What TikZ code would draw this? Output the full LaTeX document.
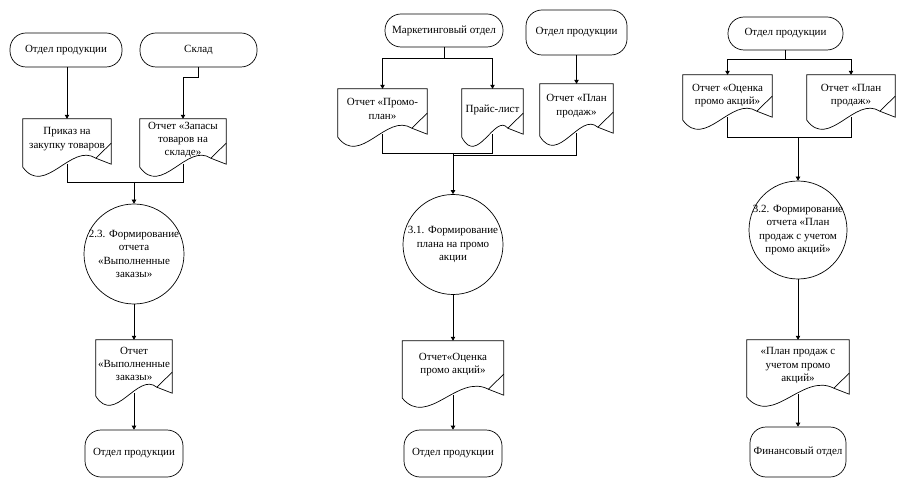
\documentclass[tikz,border=0pt]{standalone}
\usepackage{fontspec}
\setmainfont{Liberation Serif}
\usetikzlibrary{arrows.meta,calc}
\tikzset{
  every node/.style={font=\fontsize{11}{13.3}\selectfont},
  lw/.style={line width=0.7pt},
  term/.style={draw, lw, rounded corners=16pt, inner sep=0pt, align=center},
  docnode/.style={inner sep=0pt},
  proc/.style={draw, lw, circle, inner sep=0pt},
  ptext/.style={align=center, inner sep=0pt},
  arr/.style={lw, -{Triangle[length=4pt,width=4.5pt]}},
  conn/.style={lw}
}
\newcommand\docshape[2]{%
  \draw[lw] (#1.south west) .. controls ($(#1.south west)+(0.25*#2,-30)$) and ($(#1.south west)+(0.55*#2,25)$) .. ($(#1.south west)+(#2-15,9)$)
    -- ($(#1.south east)+(0,3)$) -- (#1.north east) -- (#1.north west) -- cycle;
  \draw[lw] ($(#1.south west)+(#2-15,9)$) -- ($(#1.south east)+(0,24)$);
}
\begin{document}
\begin{tikzpicture}[x=1pt,y=1pt]
\useasboundingbox (0,0) rectangle (904,-486);
% ---------- column 1 ----------
\node[term, minimum width=112pt, minimum height=34pt] (t11) at (66,-50) {Отдел продукции};
\node[term, minimum width=117pt, minimum height=34pt] (t12) at (198.5,-50) {Склад};
\node[docnode, minimum width=88pt, minimum height=48pt] (d11) at (67,-143) {};
\node[ptext] (d11t) at ($(d11)+(0,4)$) {Приказ на\\закупку товаров};
\node[docnode, minimum width=86pt, minimum height=48pt] (d12) at (183,-143) {};
\node[ptext] (d12t) at ($(d12)+(0,3)$) {Отчет «Запасы\\товаров на\\складе»};
\docshape{d11}{88}
\docshape{d12}{86}
\node[proc, minimum size=100pt] (c1) at (134,-254) {};
\node[ptext] (c1t) at (c1) {2.3. Формирование\\отчета\\«Выполненные\\заказы»};
\node[docnode, minimum width=76pt, minimum height=56pt] (d13) at (134,-368) {};
\node[ptext] (d13t) at ($(d13)+(0,4)$) {Отчет\\«Выполненные\\заказы»};
\docshape{d13}{76}
\node[term, minimum width=98pt, minimum height=47pt] (t13) at (134,-453.5) {Отдел продукции};
\coordinate (j1) at (134,-182);
\draw[arr] (t11.south -| d11.north) -- (d11.north);
\draw[arr] (t12.south) -- ++(0,-10) -| (d12.north);
\draw[conn] ($(d11.south)+(0,3)$) -- (d11.south |- j1) -- (d12.south |- j1) -- ($(d12.south)+(0,3)$);
\draw[arr] (j1) -- (c1.north);
\draw[arr] (c1.south) -- (d13.north);
\draw[arr] ($(d13.south)+(0,3)$) -- (t13.north);
% ---------- column 2 ----------
\node[term, minimum width=118pt, minimum height=33pt] (t21) at (444,-30.5) {Маркетинговый отдел};
\node[term, minimum width=101pt, minimum height=45pt] (t22) at (576.5,-32.5) {Отдел продукции};
\node[docnode, minimum width=89pt, minimum height=48pt] (d21) at (382.5,-113) {};
\node[ptext] (d21t) at ($(d21)+(0,4)$) {Отчет «Промо-\\план»};
\node[docnode, minimum width=61pt, minimum height=48pt] (d22) at (492.5,-113) {};
\node[ptext] (d22t) at ($(d22)+(0,3)$) {Прайс-лист};
\node[docnode, minimum width=73pt, minimum height=52pt] (d23) at (576.5,-110) {};
\node[ptext] (d23t) at ($(d23)+(0,4)$) {Отчет «План\\продаж»};
\docshape{d21}{89}
\docshape{d22}{61}
\docshape{d23}{73}
\node[proc, minimum size=100pt] (c2) at (453,-244.5) {};
\node[ptext] (c2t) at (c2) {3.1. Формирование\\плана на промо\\акции};
\node[docnode, minimum width=101pt, minimum height=57pt] (d24) at (453,-369.5) {};
\node[ptext] (d24t) at ($(d24)+(0,5)$) {Отчет«Оценка\\промо акций»};
\docshape{d24}{101}
\node[term, minimum width=98pt, minimum height=47pt] (t23) at (453,-453.5) {Отдел продукции};
\coordinate (j2b) at (453,-153);
\coordinate (j2c) at (453,-155);
\draw[arr] (t21.south) -- ++(0,-11) -| (d21.north);
\draw[arr] (t21.south) -- ++(0,-11) -| (d22.north);
\draw[arr] (t22.south -| d23.north) -- (d23.north);
\draw[conn] ($(d21.south)+(0,3)$) -- (d21.south |- j2b) -- (d22.south |- j2b) -- ($(d22.south)+(0,3)$);
\draw[conn] ($(d23.south)+(0,3)$) -- (d23.south |- j2c) -- (j2c);
\draw[arr] (j2b) -- (c2.north);
\draw[arr] (c2.south) -- (d24.north);
\draw[arr] ($(d24.south)+(0,3)$) -- (t23.north);
% ---------- column 3 ----------
\node[term, minimum width=115pt, minimum height=33pt] (t31) at (785.5,-33.5) {Отдел продукции};
\node[docnode, minimum width=89pt, minimum height=45pt] (d31) at (727.5,-97.5) {};
\node[ptext] (d31t) at ($(d31)+(0,2)$) {Отчет «Оценка\\промо акций»};
\node[docnode, minimum width=88pt, minimum height=45pt] (d32) at (851,-97.5) {};
\node[ptext] (d32t) at ($(d32)+(0,2)$) {Отчет «План\\продаж»};
\docshape{d31}{89}
\docshape{d32}{88}
\node[proc, minimum size=98pt] (c3) at (798,-230) {};
\node[ptext] (c3t) at (c3) {3.2. Формирование\\отчета «План\\продаж с учетом\\промо акций»};
\node[docnode, minimum width=102pt, minimum height=57pt] (d33) at (798,-368.5) {};
\node[ptext] (d33t) at ($(d33)+(0,3)$) {«План продаж с\\учетом промо\\акций»};
\docshape{d33}{102}
\node[term, minimum width=96pt, minimum height=50pt] (t32) at (798,-452) {Финансовый отдел};
\coordinate (j3) at (798,-137);
\draw[arr] (t31.south) -- ++(0,-9) -| (d31.north);
\draw[arr] (t31.south) -- ++(0,-9) -| (d32.north);
\draw[conn] ($(d31.south)+(0,3)$) -- (d31.south |- j3) -- (d32.south |- j3) -- ($(d32.south)+(0,3)$);
\draw[arr] (j3) -- (c3.north);
\draw[arr] (c3.south) -- (d33.north);
\draw[arr] ($(d33.south)+(0,3)$) -- (t32.north);
\end{tikzpicture}
\end{document}
